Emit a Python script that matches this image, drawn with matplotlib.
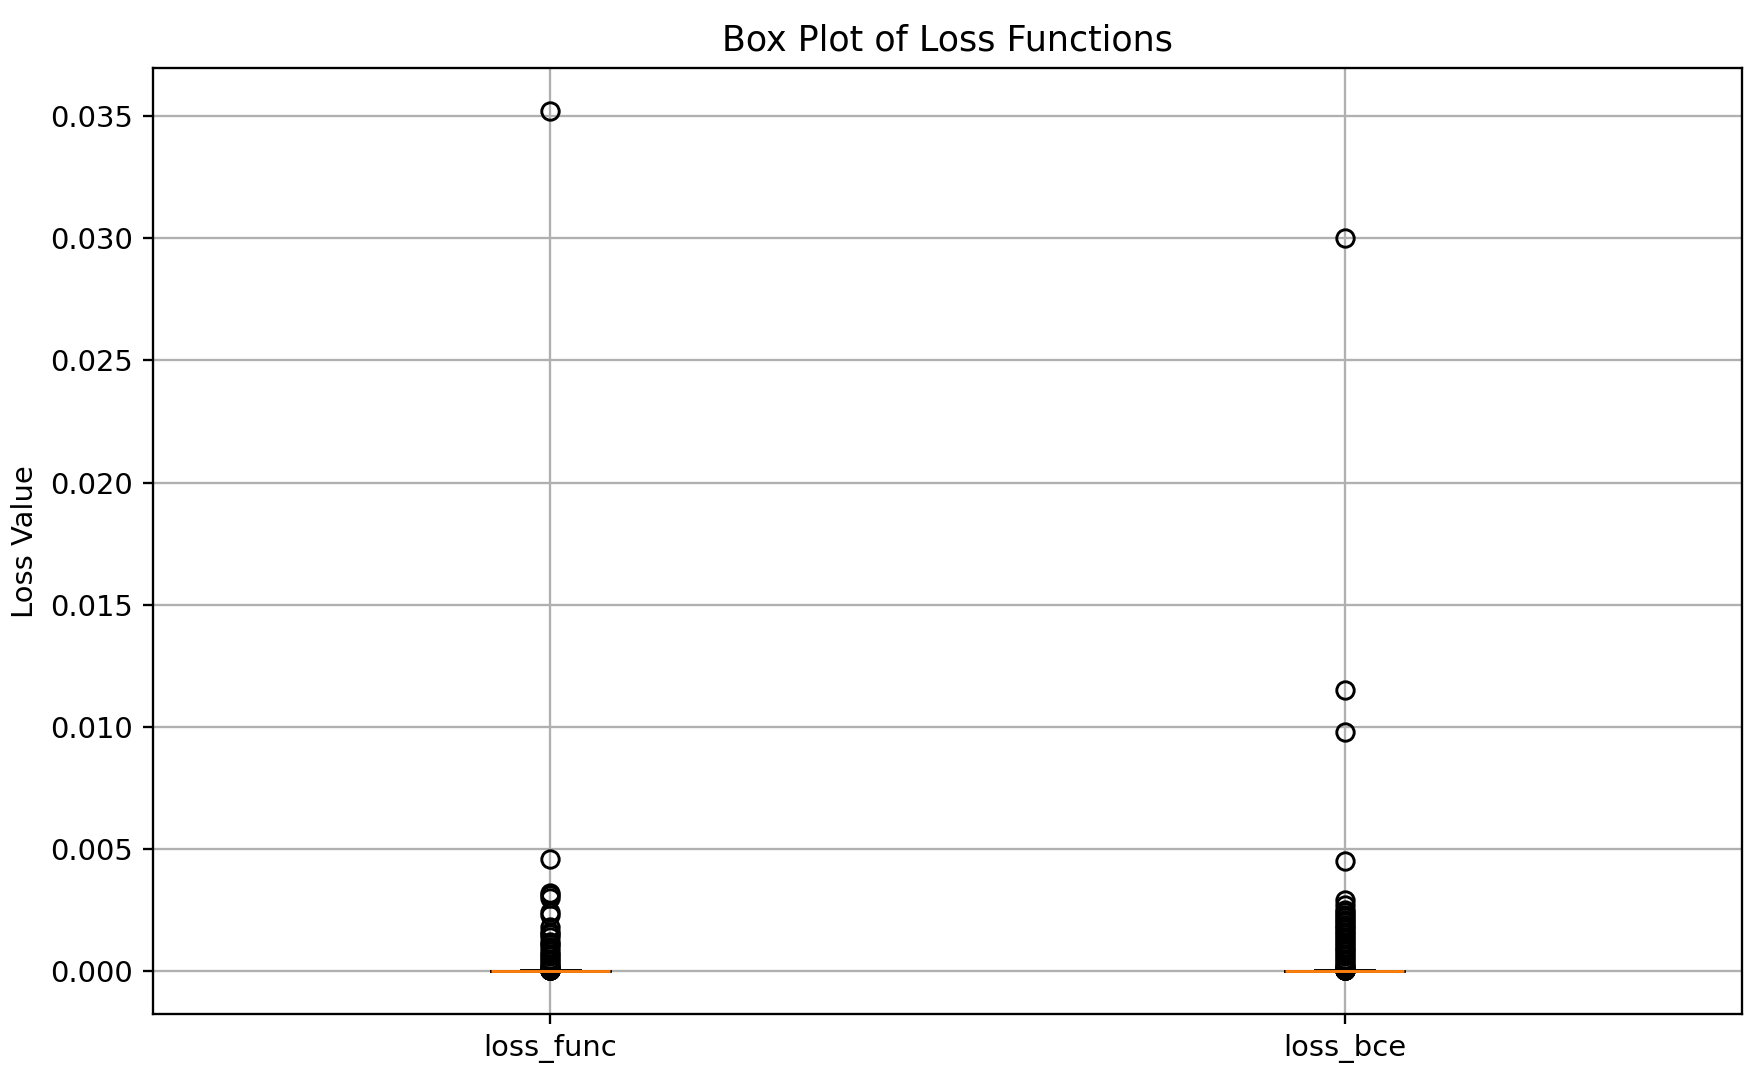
import numpy as np
import matplotlib.pyplot as plt

# Valores cercanos a cero (la gran mayoría de las pérdidas) y cuántas veces aparecen
base_func_vals = [0.000001, 0.000002, 0.000003, 0.000005, 0.000008, 0.000012, 0.000018, 0.000025, 0.000035]
base_func_counts = [60, 55, 50, 45, 40, 30, 20, 12, 8]
outliers_func = [0.0352, 0.0046, 0.0032, 0.0031, 0.0030, 0.0024, 0.0023, 0.0018,
                 0.0016, 0.0015, 0.0014, 0.0012, 0.0011, 0.0010, 0.0008, 0.0007,
                 0.0006, 0.0005, 0.0004, 0.0003, 0.0002, 0.00015, 0.0001]

base_bce_vals = [0.000001, 0.000002, 0.000003, 0.000005, 0.000008, 0.000012, 0.000018, 0.000025, 0.000035]
base_bce_counts = [55, 55, 50, 45, 40, 32, 22, 12, 9]
outliers_bce = [0.0300, 0.0115, 0.0098, 0.0045, 0.0029, 0.0027, 0.0025, 0.0024,
                0.0023, 0.0022, 0.0021, 0.0020, 0.0019, 0.0018, 0.0017, 0.0016,
                0.0015, 0.0014, 0.0013, 0.0012, 0.0011, 0.0010, 0.0009, 0.0008,
                0.0007, 0.0006, 0.0005, 0.0004, 0.0003, 0.0002, 0.00015, 0.0001]

labels = ['loss_func', 'loss_bce']
loss_func = list(np.repeat(base_func_vals, base_func_counts)) + outliers_func
loss_bce = list(np.repeat(base_bce_vals, base_bce_counts)) + outliers_bce
datos = [loss_func, loss_bce]

dpi = 209
fig = plt.figure(figsize=(1757 / dpi, 1078 / dpi), dpi=dpi)
ax = fig.add_axes([0.0873, 0.0594, 0.904, 0.8772])
ax.boxplot(datos, tick_labels=labels)
ax.set_title("Box Plot of Loss Functions")
ax.set_ylabel("Loss Value")
ax.grid(True)
fig.savefig('out.png', dpi=dpi)
